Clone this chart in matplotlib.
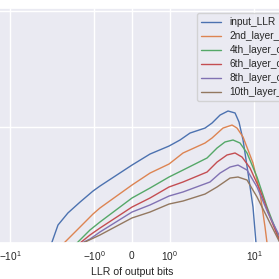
import matplotlib
matplotlib.use("Agg")
import matplotlib.pyplot as plt
import seaborn as sns

sns.set_theme(style="darkgrid", palette="deep")
plt.rcParams['font.family'] = ['Liberation Sans', 'DejaVu Sans']

labels = ["input_LLR", "2nd_layer_output", "4th_layer_output",
          "6th_layer_output", "8th_layer_output", "10th_layer_output"]

input_x = [-3.21, -2.70, -2.06, -1.48, -1.04, -0.853, 0.0, 0.480, 0.986, 1.33, 1.747,
           2.63, 3.18, 3.96, 4.92, 5.96, 6.64, 7.41, 8.49, 9.72, 10.55]
input_y = [0, 0.0155, 0.0259, 0.0353, 0.0448, 0.0491, 0.0672, 0.0767, 0.0836, 0.0888, 0.0948,
           0.0991, 0.1034, 0.1103, 0.1138, 0.1121, 0.1043, 0.0888, 0.0603, 0.0310, 0]

l2_x = [-2.29, -1.48, -1.04, -0.853, 0.0, 0.480, 0.986, 1.444, 2.63, 3.18, 4.29,
        5.49, 6.29, 7.41, 9.72, 11.77, 13.49, 14.25]
l2_y = [0, 0.0138, 0.0250, 0.0302, 0.0500, 0.0603, 0.0681, 0.0776, 0.0862, 0.0905, 0.0991,
        0.1017, 0.0991, 0.0914, 0.0690, 0.0431, 0.0138, 0]

l4_x = [-1.61, -1.13, -0.853, 0.0, 0.480, 0.986, 1.444, 2.78, 3.65, 4.53, 5.64, 6.82,
        8.26, 10.84, 14.25, 18.71, 20.8]
l4_y = [0, 0.0112, 0.0181, 0.0388, 0.0474, 0.0569, 0.0629, 0.0733, 0.0819, 0.0871, 0.0888, 0.0862,
        0.0776, 0.0569, 0.0310, 0.0086, 0]

l6_x = [-1.48, -1.13, -0.853, 0.0, 0.480, 0.986, 1.444, 2.78, 3.65, 4.79, 5.96, 7.21,
        8.96, 11.77, 15.45, 19.22, 20.8]
l6_y = [0, 0.0069, 0.0129, 0.0310, 0.0388, 0.0483, 0.0526, 0.0612, 0.0698, 0.0759, 0.0776, 0.0741,
        0.0647, 0.0457, 0.0224, 0.0052, 0]

l8_x = [-1.41, -1.13, -0.853, 0.0, 0.480, 0.986, 1.444, 3.01, 3.96, 5.20, 6.46, 8.26,
        10.84, 14.63, 19.22, 22.0]
l8_y = [0, 0.0034, 0.0095, 0.0267, 0.0328, 0.0405, 0.0440, 0.0526, 0.0603, 0.0655, 0.0672, 0.0629,
        0.0483, 0.0259, 0.0086, 0]

l10_x = [-1.37, -0.853, 0.0, 0.480, 0.986, 1.444, 2.63, 3.65, 5.20, 6.46, 8.26,
         10.84, 15.45, 18.71, 20.3]
l10_y = [0, 0.0069, 0.0216, 0.0267, 0.0336, 0.0362, 0.0422, 0.0483, 0.0560, 0.0569, 0.0543,
         0.0397, 0.0172, 0.0052, 0]

series = [(input_x, input_y), (l2_x, l2_y), (l4_x, l4_y),
          (l6_x, l6_y), (l8_x, l8_y), (l10_x, l10_y)]

fig = plt.figure(figsize=(2.79, 2.79), dpi=100)
ax = fig.add_axes([-0.2, 0.129, 1.3462, 0.8423])

for (xs, ys), lab in zip(series, labels):
    ax.plot(xs, ys, linewidth=1.0, label=lab)

ax.set_xscale("symlog", linthresh=1, linscale=0.4)
ax.set_xlim(-60, 60)
ax.set_ylim(0, 0.2026)
ax.set_yticks([0, 0.1, 0.2])

ax.set_xlabel("LLR of output bits", fontsize=7.6, labelpad=3)
ax.tick_params(axis="both", length=0, labelsize=7.3, pad=4.5)
ax.legend(loc="upper right", fontsize=7.3, labelspacing=0.4)

fig.savefig("out.png", dpi=100)
